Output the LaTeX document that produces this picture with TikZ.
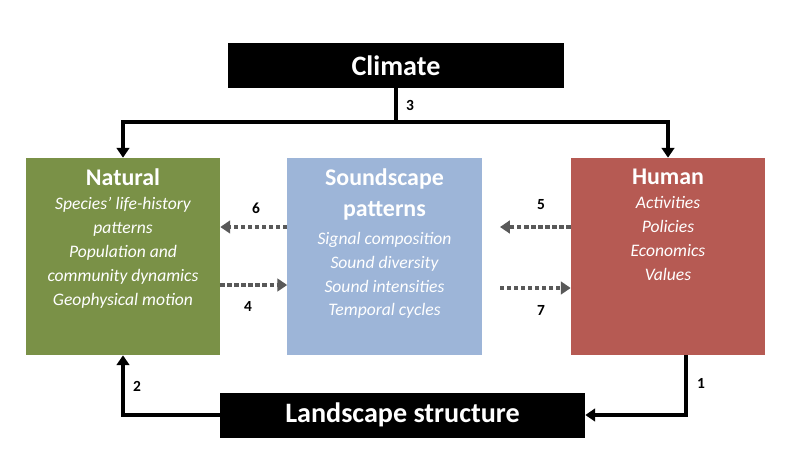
\documentclass[tikz,border=0pt]{standalone}
\usepackage{fontspec}
\setmainfont{Carlito}
\usetikzlibrary{positioning, arrows.meta}
\tikzset{
	bar/.style={
		rectangle,
		fill=black,
		text=white,
		font=\bfseries\fontsize{20}{22}\selectfont,
		minimum height=1.125cm,
	},
	panel/.style={
		rectangle,
		minimum width=4.85cm,
		minimum height=4.925cm,
	},
	body/.style={
		text=white,
		align=center,
		font=\itshape\fontsize{12.5}{17}\selectfont,
	},
	head/.style={
		text=white,
		align=center,
		font=\bfseries\fontsize{17}{19}\selectfont,
	},
	num/.style={
		font=\bfseries\fontsize{11}{12}\selectfont,
	},
	link/.style={
		line width=2.2pt,
		-{Triangle[length=7pt,width=9pt]},
	},
	cross/.style={
		line width=2.6pt,
		draw=black!65,
		dash pattern=on 3pt off 2pt,
		-{Triangle[length=7pt,width=9pt]},
	},
}
\definecolor{natgreen}{HTML}{7A9147}
\definecolor{sndblue}{HTML}{9DB5D8}
\definecolor{humred}{HTML}{B65A53}
\begin{document}
\begin{tikzpicture}[x=0.025cm, y=-0.025cm]
		\useasboundingbox (0,0) rectangle (796,448);
		% Place nodes
		\node [bar, minimum width=8.4cm] (clim) at (396,65.5) {Climate};
		\node [bar, minimum width=9.125cm] (land) at (402.5,415) {Landscape structure};
		
		\node [panel, fill=natgreen] (nat) at (123,256.5) {};
		\node [panel, fill=sndblue] (snd) at (384.5,256.5) {};
		\node [panel, fill=humred] (hum) at (668,256.5) {};
		
		\node [head, below=0.15cm of nat.north] (nath) {Natural};
		\node [body, below=0.05cm of nath] {Species' life-history\\patterns\\Population and\\community dynamics\\Geophysical motion};
		\node [head, below=0.15cm of snd.north, font=\bfseries\fontsize{17}{22}\selectfont] (sndh) {Soundscape\\patterns};
		\node [body, below=0.05cm of sndh] {Signal composition\\Sound diversity\\Sound intensities\\Temporal cycles};
		\node [head, below=0.15cm of hum.north] (humh) {Human};
		\node [body, below=0.05cm of humh] {Activities\\Policies\\Economics\\Values};
		
		% Solid links
		\coordinate (split) at (396,122);
		\draw [line width=2.2pt] (clim) -- (split);
		\draw [link] (split) -| (nat.north);
		\draw [link] (split) -| (hum.north);
		\node [num] at (410,105) {3};
		
		\draw [link] (hum.south -| 686,0) |- (land.east);
		\node [num] at (701,383) {1};
		\draw [link] (land.west) -| (nat.south);
		\node [num] at (137,386) {2};
		
		% Dashed links
		\draw [cross] (snd.west |- 0,227) -- (nat.east |- 0,227);
		\node [num] at (256,208) {6};
		\draw [cross] (nat.east |- 0,285) -- (snd.west |- 0,285);
		\node [num] at (248,306) {4};
		\draw [cross] (hum.west |- 0,227) -- (500,227);
		\node [num] at (541,205) {5};
		\draw [cross] (500,288) -- (hum.west |- 0,288);
		\node [num] at (541,310) {7};
	\end{tikzpicture}
\end{document}
